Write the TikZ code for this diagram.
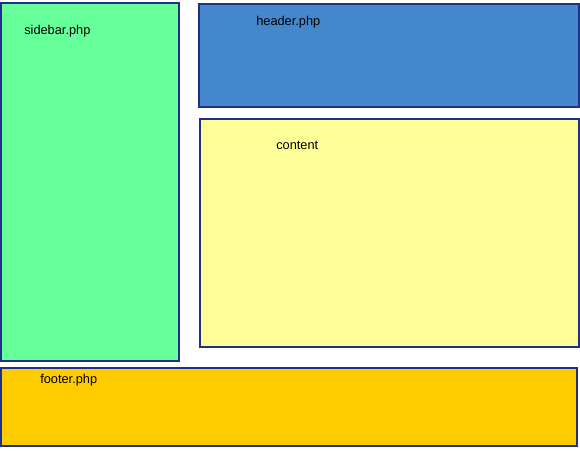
\documentclass[tikz,border=0pt]{standalone}
\usepackage{fontspec}
\setmainfont{Liberation Sans}
\usepackage{tikz}
\usetikzlibrary{positioning}

\definecolor{framecol}{HTML}{1F2F8A}
\definecolor{sidebarcol}{HTML}{66FF99}
\definecolor{headercol}{HTML}{4488CC}
\definecolor{contentcol}{HTML}{FFFF99}
\definecolor{footercol}{HTML}{FFCC00}
\def\px{0.75pt}

\begin{document}
\begin{tikzpicture}[x=0.75pt,y=-0.75pt,
  panel/.style={draw=framecol,line width=1.5pt,anchor=north west,
    inner sep=0pt,outer sep=0pt},
  lbl/.style={anchor=west,inner sep=0pt,font=\fontsize{9.6}{11}\selectfont}]
\useasboundingbox (0,0) rectangle (580,450);
% page regions
\node[panel,fill=sidebarcol,minimum width=178*\px,minimum height=358*\px] (sidebar) at (1,3) {};
\node[panel,fill=headercol,minimum width=380*\px,minimum height=103*\px] (header) at (199,4) {};
\node[panel,fill=contentcol,minimum width=379*\px,minimum height=228*\px] (content) at (200,119) {};
\node[panel,fill=footercol,minimum width=576*\px,minimum height=78*\px] (footer) at (1,368) {};
% region names
\node[lbl] (sidebarlbl) at (24,31.5) {sidebar.php};
\node[lbl] (headerlbl) at (256,22.5) {header.php};
\node[lbl] (contentlbl) at (276,145.5) {content};
\node[lbl] (footerlbl) at (40,380.5) {footer.php};
\end{tikzpicture}
\end{document}
